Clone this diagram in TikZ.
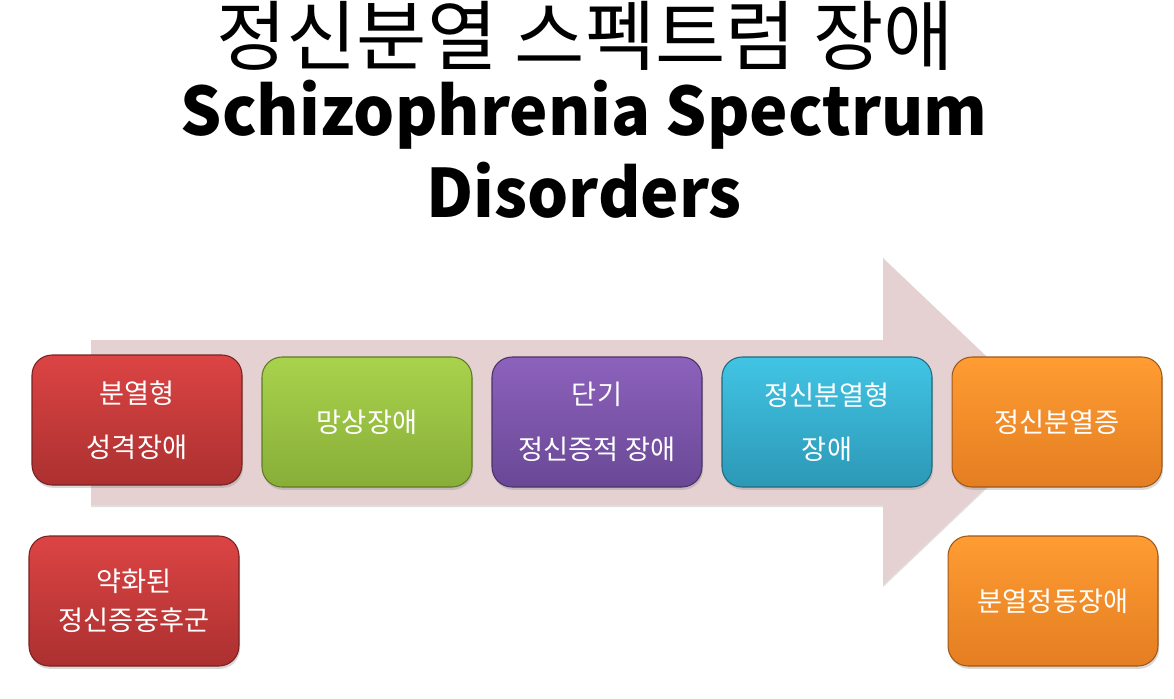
\documentclass[tikz,border=0pt]{standalone}
\usepackage{fontspec}
\usepackage{tikz}
\usetikzlibrary{arrows,shapes,positioning,shadows}
\newfontfamily\kr{Noto Sans CJK KR}
\definecolor{arrowpink}{HTML}{E5D1D1}
\definecolor{redtop}{HTML}{DC4444}\definecolor{redbot}{HTML}{AC3030}
\definecolor{greentop}{HTML}{A9D24C}\definecolor{greenbot}{HTML}{88AE38}
\definecolor{purpletop}{HTML}{8C62BC}\definecolor{purplebot}{HTML}{6A4896}
\definecolor{cyantop}{HTML}{42C4E4}\definecolor{cyanbot}{HTML}{2C98B6}
\definecolor{orangetop}{HTML}{FF9C32}\definecolor{orangebot}{HTML}{E47E22}

\begin{document}
\begin{tikzpicture}[x=0.02cm,y=-0.02cm]
\tikzstyle{every node}=[font=\kr]
\tikzstyle{stage}=[rounded corners=0.4cm,minimum width=4.2cm,minimum height=2.6cm,align=center,text=white,line width=0.6pt,
 drop shadow={opacity=0.3,shadow xshift=0.6pt,shadow yshift=-1.6pt},font=\kr\fontsize{15.5}{31}\selectfont]
\tikzstyle{redbox}=[stage,draw=redbot!70!black,top color=redtop,bottom color=redbot]
\tikzstyle{greenbox}=[stage,draw=greenbot!70!black,top color=greentop,bottom color=greenbot]
\tikzstyle{purplebox}=[stage,draw=purplebot!70!black,top color=purpletop,bottom color=purplebot]
\tikzstyle{cyanbox}=[stage,draw=cyanbot!70!black,top color=cyantop,bottom color=cyanbot]
\tikzstyle{orangebox}=[stage,draw=orangebot!70!black,top color=orangetop,bottom color=orangebot]
\useasboundingbox (0,0) rectangle (1174,698);
%title
\node (title1) at (585,36) {\fontsize{43.5}{46}\selectfont 정신분열 스펙트럼 장애};
\node[anchor=base] (title2) at (584,135) {\fontsize{38}{40}\selectfont\bfseries\scalebox{0.97}[1]{Schizophrenia Spectrum}};
\node[anchor=base] (title3) at (584,217) {\fontsize{38}{40}\selectfont\bfseries\scalebox{0.97}[1]{Disorders}};
%big arrow behind the stages
\fill[arrowpink,drop shadow={opacity=0.25,shadow xshift=0pt,shadow yshift=-1.2pt}] (91,340) -- (883,340) -- (883,258) -- (1055,421.5) -- (883,585) -- (883,505) -- (91,505) -- cycle;
%stages along the arrow
\node[redbox] (schizotypal) at (137,420) {분열형\\성격장애};
\node[greenbox] (delusional) at (367,422) {망상장애};
\node[purplebox] (brief) at (597,422) {단기\\정신증적 장애};
\node[cyanbox] (schizophreniform) at (827,422) {정신분열형\\장애};
\node[orangebox] (schizophrenia) at (1057,422) {정신분열증};
%second row
\node[redbox,font=\kr\fontsize{15.5}{22}\selectfont] (attenuated) at (134,601) {약화된\\정신증중후군};
\node[orangebox] (schizoaffective) at (1053,601) {분열정동장애};
\end{tikzpicture}
\end{document}
